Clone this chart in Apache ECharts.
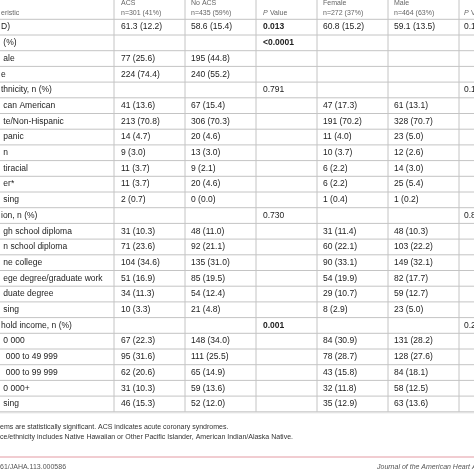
<!DOCTYPE html><html><head><meta charset="utf-8">
<script src="https://cdn.jsdelivr.net/npm/echarts@6/dist/echarts.min.js"></script>
<style>html,body{margin:0;padding:0;background:#fff}#c{width:474px;height:474px}</style></head><body><div id="c"></div>
<script>
const headerTop=["","ACS","No ACS","","Female","Male",""];
const headerBottom=["eristic","n=301 (41%)","n=435 (59%)","P Value","n=272 (37%)","n=464 (63%)","P Value"];
const rowLabels=["D)"," (%)"," ale","e","thnicity, n (%)"," can American"," te/Non-Hispanic"," panic"," n"," tiracial"," er*"," sing","ion, n (%)"," gh school diploma"," n school diploma"," ne college"," ege degree/graduate work"," duate degree"," sing","hold income, n (%)"," 0 000","  000 to 49 999","  000 to 99 999"," 0 000+"," sing"];
const acs=["61.3 (12.2)","","77 (25.6)","224 (74.4)","","41 (13.6)","213 (70.8)","14 (4.7)","9 (3.0)","11 (3.7)","11 (3.7)","2 (0.7)","","31 (10.3)","71 (23.6)","104 (34.6)","51 (16.9)","34 (11.3)","10 (3.3)","","67 (22.3)","95 (31.6)","62 (20.6)","31 (10.3)","46 (15.3)"];
const noAcs=["58.6 (15.4)","","195 (44.8)","240 (55.2)","","67 (15.4)","306 (70.3)","20 (4.6)","13 (3.0)","9 (2.1)","20 (4.6)","0 (0.0)","","48 (11.0)","92 (21.1)","135 (31.0)","85 (19.5)","54 (12.4)","21 (4.8)","","148 (34.0)","111 (25.5)","65 (14.9)","59 (13.6)","52 (12.0)"];
const pAcs=["0.013","<0.0001","","","0.791","","","","","","","","0.730","","","","","","","0.001","","","","",""];
const pAcsBold=[1,1,0,0,0,0,0,0,0,0,0,0,0,0,0,0,0,0,0,1,0,0,0,0,0];
const female=["60.8 (15.2)","","","","","47 (17.3)","191 (70.2)","11 (4.0)","10 (3.7)","6 (2.2)","6 (2.2)","1 (0.4)","","31 (11.4)","60 (22.1)","90 (33.1)","54 (19.9)","29 (10.7)","8 (2.9)","","84 (30.9)","78 (28.7)","43 (15.8)","32 (11.8)","35 (12.9)"];
const male=["59.1 (13.5)","","","","","61 (13.1)","328 (70.7)","23 (5.0)","12 (2.6)","14 (3.0)","25 (5.4)","1 (0.2)","","48 (10.3)","103 (22.2)","149 (32.1)","82 (17.7)","59 (12.7)","23 (5.0)","","131 (28.2)","128 (27.6)","84 (18.1)","58 (12.5)","63 (13.6)"];
const pSex=["0.12","","","","0.14","","","","","","","","0.85","","","","","","","0.27","","","","",""];
const footnotes=["ems are statistically significant. ACS indicates acute coronary syndromes.","ce/ethnicity includes Native Hawaiian or Other Pacific Islander, American Indian/Alaska Native."];
const doiText="61/JAHA.113.000586";
const journalText="Journal of the American Heart A";

const colX=[114,185,256,317,388,459];
const textX=[1,121,191,263,323,394,464];
const y0=19.3,rh=15.7,n=rowLabels.length;
const font='"Liberation Sans", Arial, sans-serif';
const g=[];
const line=(x1,y1,x2,y2,c,w)=>g.push({type:'line',shape:{x1,y1,x2,y2},style:{stroke:c||'#c4c4c4',lineWidth:w||1}});
const txt=(x,y,t,o)=>g.push({type:'text',x,y,style:Object.assign({text:t,fill:'#222',font:'8.5px '+font,textVerticalAlign:'middle'},o||{})});
for(let i=0;i<=n;i++) line(0,y0+i*rh,474,y0+i*rh,'#c4c4c4',1);
line(0,y0+n*rh+1,474,y0+n*rh+1,'#ddd',1);
colX.forEach(x=>line(x,0,x,y0+n*rh,'#c4c4c4',1));
const cols=[rowLabels,acs,noAcs,pAcs,female,male,pSex];
headerTop.forEach((t,j)=>t&&txt(textX[j],3,t,{fill:'#666',font:'7px '+font}));
headerBottom.forEach((t,j)=>{
  if(j==3||j==6){txt(textX[j],13,'P',{fill:'#666',font:'italic 7px '+font});txt(textX[j]+5,13,t.slice(1),{fill:'#666',font:'7px '+font});}
  else txt(textX[j],13,t,{fill:'#666',font:'7px '+font});
});
for(let i=0;i<n;i++){
  const cy=y0+i*rh+rh/2;
  cols.forEach((c,j)=>{ if(c[i]) txt(textX[j],cy,c[i],{font:((j==3&&pAcsBold[i])?'bold ':'')+'8.5px '+font}); });
}
txt(0,427,footnotes[0],{font:'7px '+font,fill:'#333'});
txt(0,437,footnotes[1],{font:'7px '+font,fill:'#333'});
line(0,457,474,457,'#e39aa3',1);
txt(0,467,doiText,{font:'7px '+font,fill:'#555'});
txt(377,467,journalText,{font:'italic 7px '+font,fill:'#555'});
const chart=echarts.init(document.getElementById('c'));
chart.setOption({backgroundColor:'#fff',animation:false,graphic:g});
</script></body></html>
